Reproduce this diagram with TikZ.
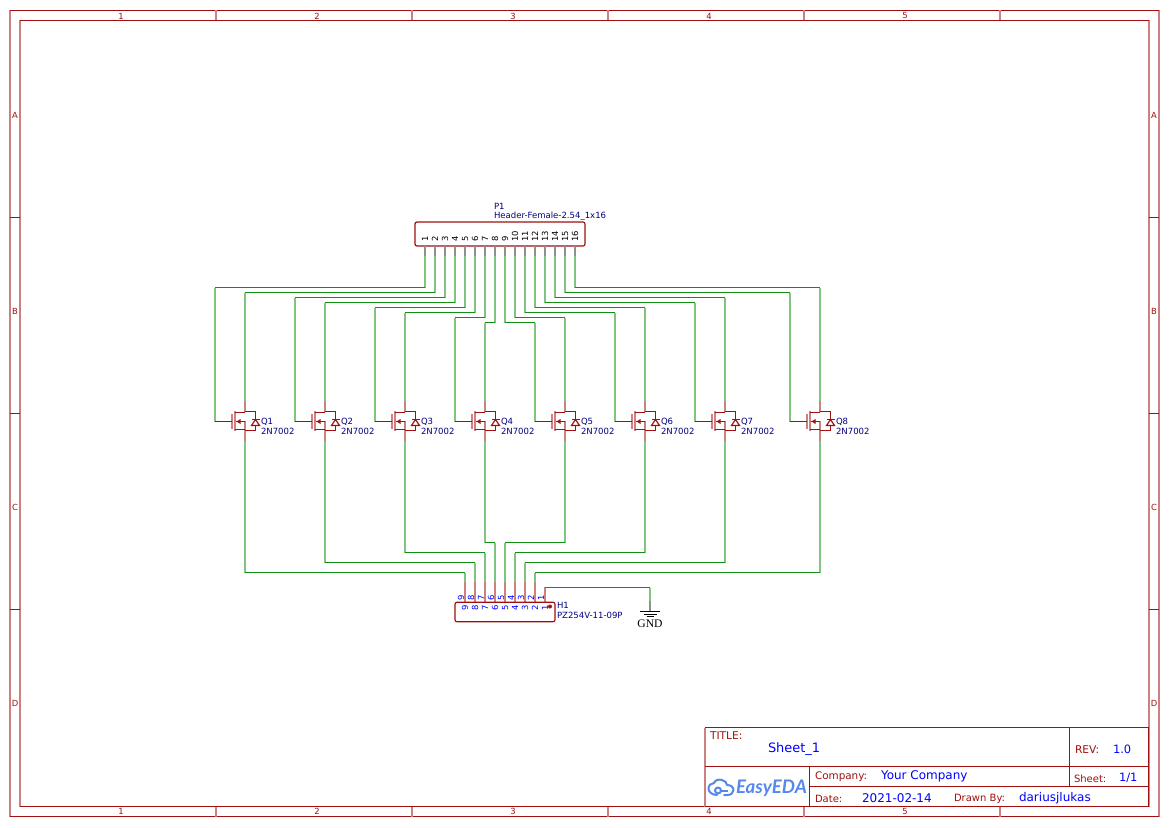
\documentclass[tikz,border=0pt]{standalone}
\usepackage{fontspec}
\setmainfont{DejaVu Sans}
\newfontfamily\serifgnd{Liberation Serif}
\newfontfamily\logofont{Lato}
\definecolor{frame}{HTML}{A01010}
\definecolor{framepale}{HTML}{CC8080}
\definecolor{wiregreen}{HTML}{109010}
\definecolor{wirepale}{HTML}{80C480}
\definecolor{pingray}{HTML}{909090}
\definecolor{partblue}{HTML}{000080}
\definecolor{valblue}{HTML}{0000FF}
\definecolor{logoblue}{HTML}{5588EE}
\tikzset{
  frameh/.style={draw=frame,line width=.9pt},
  framev/.style={draw=framepale,line width=1.5pt},
  wireh/.style={draw=wiregreen,line width=.9pt},
  wirev/.style={draw=wirepale,line width=1.5pt},
  redpin/.style={draw=frame,line width=.9pt},
  graypin/.style={draw=pingray,line width=1.5pt},
  symb/.style={draw=frame,line width=.9pt},
  txt/.style={inner sep=0pt,outer sep=0pt,anchor=west},
  gridlabel/.style={inner sep=0pt,text=frame,font=\fontsize{6.3}{7}\selectfont},
  partlabel/.style={txt,text=partblue,font=\fontsize{6.4}{7}\selectfont},
  pinnum/.style={inner sep=0pt,outer sep=0pt,rotate=90,font=\fontsize{6.3}{7}\selectfont},
  tlabel/.style={txt,text=frame,font=\fontsize{7.5}{9}\selectfont},
  tvalue/.style={txt,text=valblue,font=\fontsize{9}{10}\selectfont},
  body/.style={draw=frame,line width=.9pt,rounded corners=1.5pt,inner sep=0pt,fill=white}
}
\newcommand\mosfet[3]{%
  \coordinate (G#3) at (#1,421.5);
  \coordinate (D#3) at (#2,401);
  \coordinate (S#3) at (#2,441);
  \draw[framev] (#1,414) -- (#1,429);
  \draw[framev] (#1+3,411) -- (#1+3,431);
  \draw[framev] (#2,401) -- (#2,412);
  \draw[framev] (#2,421) -- (#2,441);
  \draw[symb] (#1+3,412.5) -- (#2,412.5);
  \draw[symb] (#1+3,429.5) -- (#2,429.5);
  \draw[symb] (#1+4,421.5) -- (#2,421.5);
  \fill[frame] (#1+4.5,421.5) -- (#1+8.5,419) -- (#1+8.5,424) -- cycle;
  \draw[symb] (#2,411.5) -- (#2+10.5,411.5) -- (#2+10.5,430.5) -- (#2,430.5);
  \draw[symb,fill=white] (#2+10.5,419.5) -- (#2+6.5,425.5) -- (#2+14.5,425.5) -- cycle;
  \draw[symb] (#2+6.5,419.5) -- (#2+14.5,419.5);
  \node[partlabel] (Qn#3) at (#2+16,422) {Q#3};
  \node[partlabel] (Qv#3) at (#2+16,431) {2N7002};
}
\newcommand\gatewire[4]{%
  \draw[wirev] (P-#1) -- (P-#1 |- 0,#2);
  \draw[wirev] (#3,#2) -- (#3,421.5);
  \draw[wireh] (P-#1 |- 0,#2) -- (#3,#2);
  \draw[redpin] (#3,421.5) -- (G#4);}
\newcommand\drainwire[3]{%
  \draw[wirev] (P-#1) -- (P-#1 |- 0,#2);
  \draw[wirev] (D#3 |- 0,#2) -- (D#3);
  \draw[wireh] (P-#1 |- 0,#2) -- (D#3 |- 0,#2);}
\newcommand\sourcewire[3]{%
  \draw[wirev] (S#1) -- (S#1 |- 0,#2);
  \draw[wirev] (H-#3 |- 0,#2) -- (H-#3);
  \draw[wireh] (S#1 |- 0,#2) -- (H-#3 |- 0,#2);}
\begin{document}
\begin{tikzpicture}[x=.75pt,y=-.75pt]
\useasboundingbox (0,0) rectangle (1169,827);
\fill[white] (0,0) rectangle (1169,827);
% frame
\draw[framev] (10,10.5) -- (10,816.5) (20,20.5) -- (20,806.5) (1149,20.5) -- (1149,806.5) (1159,10.5) -- (1159,816.5);
\draw[frameh] (10,10.5) -- (1159,10.5) (20,20.5) -- (1149,20.5) (20,806.5) -- (1149,806.5) (10,816.5) -- (1159,816.5);
\foreach \x in {216,412,608,804,1000}{
  \draw[framev] (\x,10.5) -- (\x,20.5);
  \draw[framev] (\x,806.5) -- (\x,816.5);
}
\foreach \y in {217.5,413.5,609.5}{
  \draw[frameh] (10,\y) -- (20,\y);
  \draw[frameh] (1149,\y) -- (1159,\y);
}
\foreach \n/\x in {1/121,2/317,3/513,4/709,5/905}{
  \node[gridlabel] (gt\n) at (\x,16) {\n};
  \node[gridlabel] (gb\n) at (\x,811.5) {\n};
}
\foreach \n/\y in {A/115,B/311,C/507,D/703}{
  \node[gridlabel] (gl\n) at (15,\y) {\n};
  \node[gridlabel] (gr\n) at (1154,\y) {\n};
}
% title block
\draw[framev] (705,727.5) -- (705,806.5);
\draw[frameh] (705,727.5) -- (1149,727.5) (705,766.5) -- (1149,766.5) (809,786.5) -- (1149,786.5) (705,806.5) -- (1149,806.5);
\draw[frameh] (809.5,766.5) -- (809.5,806.5) (1069.5,727.5) -- (1069.5,786.5) (1148.5,727.5) -- (1148.5,806.5);
\node[tlabel,font=\fontsize{8}{9}\selectfont] (tTitle) at (710,736) {TITLE:};
\node[txt,text=valblue,font=\fontsize{9.7}{11}\selectfont] (tSheetName) at (768,749) {Sheet\_1};
\node[tlabel,font=\fontsize{8}{9}\selectfont] (tRev) at (1075,750) {REV:};
\node[tvalue,font=\fontsize{8.6}{10}\selectfont] (tRevV) at (1113,749) {1.0};
\node[tlabel,font=\fontsize{7.8}{9}\selectfont] (tCompany) at (815,777) {Company:};
\node[tvalue] (tCompanyV) at (881,776) {Your Company};
\node[tlabel] (tSheet) at (1074,778.5) {Sheet:};
\node[tvalue,font=\fontsize{8.6}{10}\selectfont] (tSheetV) at (1119,778) {1/1};
\node[tlabel] (tDate) at (815,798.5) {Date:};
\node[tvalue] (tDateV) at (862,798.5) {2021-02-14};
\node[tlabel] (tDrawn) at (954,798.5) {Drawn By:};
\node[tvalue] (tDrawnV) at (1019,798) {dariusjlukas};
% logo
\draw[draw=logoblue,line width=1.5pt,line cap=round,line join=round]
  (717,795) .. controls (711,795) and (708.5,791) .. (708.5,788.5)
  .. controls (708.5,785) and (711,783.5) .. (714,783)
  .. controls (715,780) and (719,779) .. (722,780)
  .. controls (725,780.5) and (727,783) .. (727,785)
  .. controls (730.5,785) and (733.5,787) .. (733.5,790)
  .. controls (733.5,793) and (731,795) .. (727,795) -- (724,795);
\draw[draw=logoblue,line width=1.5pt] (718,790.5) circle[radius=3];
\draw[draw=logoblue,line width=1.5pt] (721,790.5) -- (728,790.5);
\node[txt,text=logoblue,font=\logofont\bfseries\itshape\fontsize{14}{15}\selectfont] (tLogo) at (736,788.5) {EasyEDA};
% P1
\node[body,minimum width=127.5pt,minimum height=18pt] (P1) at (500,234) {};
\node[partlabel] (P1n) at (494,206.5) {P1};
\node[partlabel] (P1v) at (494,216) {Header-Female-2.54\_1x16};
\foreach \i [evaluate=\i as \px using {415+10*\i}] in {1,...,16}{
  \coordinate (P-\i) at (\px,256);
  \draw[graypin] (\px,246) -- (P-\i);
  \node[pinnum,anchor=west] (P1t\i) at (\px,241.5) {\i};
}
% H1
\foreach \i [evaluate=\i as \px using {555-10*\i},evaluate=\i as \py using {\i==1?587:582}] in {1,...,9}{
  \node[pinnum,text=valblue] (H1o\i) at (\px-4,597.5) {\i};
  \coordinate (H-\i) at (\px,\py);
  \draw[framev] (H-\i) -- (\px,602);
}
\node[body,minimum width=75pt,minimum height=14.6pt] (H1) at (505,612) {};
\foreach \i [evaluate=\i as \px using {555-10*\i}] in {1,...,9}{
  \node[pinnum,text=valblue] (H1i\i) at (\px,608) {\i};
}
\fill[frame] (550,606.5) circle[radius=2];
\node[partlabel] (H1n) at (557,605.5) {H1};
\node[partlabel] (H1v) at (557,615) {PZ254V-11-09P};
% MOSFETs
\mosfet{232}{245}{1}
\mosfet{312}{325}{2}
\mosfet{392}{405}{3}
\mosfet{472}{485}{4}
\mosfet{552}{565}{5}
\mosfet{632}{645}{6}
\mosfet{712}{725}{7}
\mosfet{807}{820}{8}
% wires to header
\gatewire{1}{287.5}{215}{1}
\drainwire{2}{292.5}{1}
\gatewire{3}{297.5}{295}{2}
\drainwire{4}{302.5}{2}
\gatewire{5}{307.5}{375}{3}
\drainwire{6}{312.5}{3}
\gatewire{7}{317.5}{455}{4}
\drainwire{8}{322.5}{4}
\gatewire{9}{322.5}{535}{5}
\drainwire{10}{317.5}{5}
\gatewire{11}{312.5}{615}{6}
\drainwire{12}{307.5}{6}
\gatewire{13}{302.5}{695}{7}
\drainwire{14}{297.5}{7}
\gatewire{15}{292.5}{790}{8}
\drainwire{16}{287.5}{8}
% wires to H1
\sourcewire{1}{572.5}{9}
\sourcewire{2}{562.5}{8}
\sourcewire{3}{552.5}{7}
\sourcewire{4}{542.5}{6}
\sourcewire{5}{542.5}{5}
\sourcewire{6}{552.5}{4}
\sourcewire{7}{562.5}{3}
\sourcewire{8}{572.5}{2}
% GND
\coordinate (GNDtop) at (650,601);
\coordinate (GNDbar) at (650,611);
\draw[wireh] (H-1 |- 0,587.5) -- (GNDtop |- 0,587.5);
\draw[wirev] (GNDtop |- 0,587.5) -- (GNDtop);
\draw[graypin] (GNDtop) -- (GNDbar);
\draw[draw=black,line width=.6pt] (640,611.5) -- (660,611.5) (643.5,614.5) -- (656.5,614.5) (646.5,616.5) -- (653.5,616.5);
\node[inner sep=0pt,font=\serifgnd\fontsize{8.7}{10}\selectfont] (GNDt) at (650,623.5) {GND};
\end{tikzpicture}
\end{document}
